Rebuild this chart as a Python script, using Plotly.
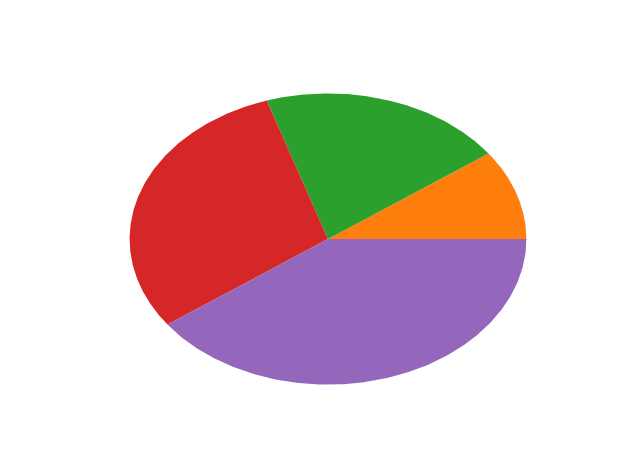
import numpy as np
import plotly.graph_objects as go

# slice data (counter-clockwise from 3 o'clock, like matplotlib's pie)
labels = ["B", "C", "D", "E"]
values = [10, 20, 30, 40]
colors = ["#ff7f0e", "#2ca02c", "#d62728", "#9467bd"]

total = float(sum(values))
edges = np.concatenate([[0.0], np.cumsum(values)]) / total * 2 * np.pi

fig = go.Figure()
for lab, v, c, a0, a1 in zip(labels, values, colors, edges[:-1], edges[1:]):
    t = np.linspace(a0, a1, 200)
    x = np.concatenate([[0.0], np.cos(t), [0.0]])
    y = np.concatenate([[0.0], np.sin(t), [0.0]])
    fig.add_trace(go.Scatter(x=x, y=y, mode="lines", fill="toself",
                             fillcolor=c, line=dict(width=0, color=c),
                             name=lab, hoverinfo="name", showlegend=False))

axis = dict(range=[-1.25, 1.25], visible=False, showgrid=False, zeroline=False)
fig.update_layout(
    width=640, height=473,
    margin=dict(l=72, r=72, t=49, b=60),
    xaxis=axis, yaxis=axis,
    plot_bgcolor="white", paper_bgcolor="white",
)
fig.write_html("out.html")
